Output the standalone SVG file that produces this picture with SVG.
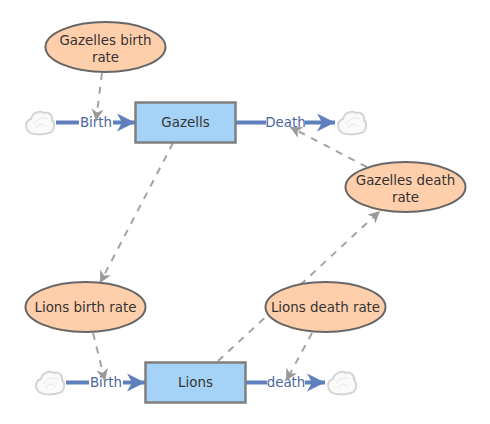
<svg xmlns="http://www.w3.org/2000/svg" width="490" height="424" viewBox="0 0 490 424">
<style>
text{font-family:"DejaVu Sans","Liberation Sans",sans-serif;font-size:13.400px;text-anchor:middle;fill:#333}
.stock{fill:#a5d3f8;stroke:#7f7f7f;stroke-width:2.500}
.rate{fill:#ffcfac;stroke:#666;stroke-width:2}
.cloud{fill:#fafafa;stroke:#d4d4d4;stroke-width:2}
.wisp{fill:none;stroke:#e6e6e6;stroke-width:1}
.flow{fill:none;stroke:#5f80bd;stroke-width:4;marker-end:url(#fh)}
.link{fill:none;stroke:#a3a3a3;stroke-width:2;stroke-dasharray:7 7;marker-end:url(#lh)}
.lbl{fill:#4a66a0}
.bg{fill:#fff}
</style>
<defs>
<marker id="fh" markerUnits="userSpaceOnUse" markerWidth="20" markerHeight="20" refX="18" refY="10" orient="auto"><path d="M0 1L18 10L0 19L5 10Z" fill="#5f80bd"/></marker>
<marker id="lh" markerUnits="userSpaceOnUse" markerWidth="14" markerHeight="14" refX="12" refY="7" orient="auto"><path d="M0 1L12 7L0 13L3.500 7Z" fill="#999"/></marker>
<path id="c" d="M4 22C-1 17 1 10 6 9C7 3 15 0 19 3C24 1 28 6 27 10C31 14 29 22 24 23C18 25 8 25 4 22Z"/>
</defs>
<g id="connectors">
<path class="flow" d="M56 122.500H135"/>
<path class="flow" d="M236 122.500H335"/>
<path class="flow" d="M66 382.500H145"/>
<path class="flow" d="M246 382.500H325"/>
<rect class="bg" x="79" y="114" width="34" height="17"/>
<rect class="bg" x="266" y="114" width="39" height="17"/>
<rect class="bg" x="89" y="374" width="34" height="17"/>
<rect class="bg" x="267" y="374" width="38" height="17"/>
<text class="lbl" x="96" y="127">Birth</text>
<text class="lbl" x="285.500" y="127">Death</text>
<text class="lbl" x="106" y="387">Birth</text>
<text class="lbl" x="286" y="387">death</text>
<path class="link" d="M102 73L96 121"/>
<path class="link" d="M173 143L100 283"/>
<path class="link" d="M367 167L290 127"/>
<path class="link" d="M218 361L380 211"/>
<path class="link" d="M93 333L105 381"/>
<path class="link" d="M312 333L286 381"/>
</g>
<g id="gazelles-birth-rate"><ellipse class="rate" cx="105.500" cy="47" rx="60" ry="25"/><text x="105.500" y="45">Gazelles birth</text><text x="105.500" y="62">rate</text></g>
<g id="gazelles-death-rate"><ellipse class="rate" cx="405.500" cy="187" rx="60" ry="25"/><text x="405.500" y="185">Gazelles death</text><text x="405.500" y="202">rate</text></g>
<g id="lions-birth-rate"><ellipse class="rate" cx="85.500" cy="307" rx="60" ry="25"/><text x="85.500" y="312">Lions birth rate</text></g>
<g id="lions-death-rate"><ellipse class="rate" cx="325.500" cy="307" rx="60" ry="25"/><text x="325.500" y="312">Lions death rate</text></g>
<g id="gazells"><rect class="stock" x="135.500" y="102.500" width="100" height="40"/><text x="185.500" y="127">Gazells</text></g>
<g id="lions"><rect class="stock" x="145.500" y="362.500" width="100" height="40"/><text x="195.500" y="387">Lions</text></g>
<g id="cloud-1" transform="translate(25 110)"><use href="#c" class="cloud"/><path class="wisp" d="M9 14C12 8 18 7 23 9M11 18C14 13 18 13 21 17"/></g>
<g id="cloud-2" transform="translate(337 110)"><use href="#c" class="cloud"/><path class="wisp" d="M9 14C12 8 18 7 23 9M11 18C14 13 18 13 21 17"/></g>
<g id="cloud-3" transform="translate(35 370)"><use href="#c" class="cloud"/><path class="wisp" d="M9 14C12 8 18 7 23 9M11 18C14 13 18 13 21 17"/></g>
<g id="cloud-4" transform="translate(327 370)"><use href="#c" class="cloud"/><path class="wisp" d="M9 14C12 8 18 7 23 9M11 18C14 13 18 13 21 17"/></g>
</svg>
